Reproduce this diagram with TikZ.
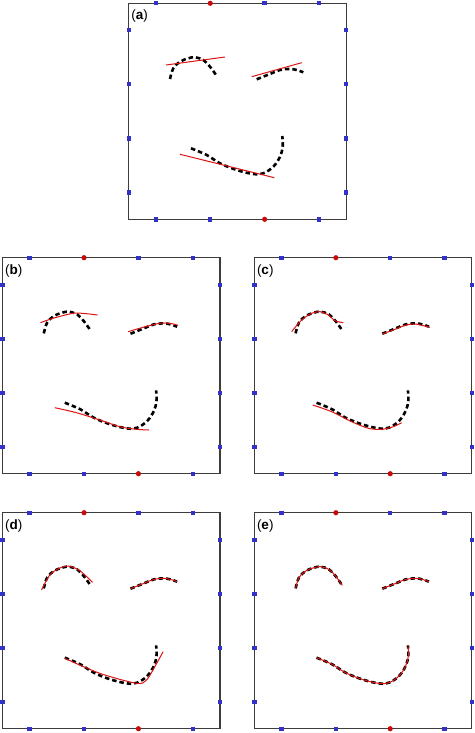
\documentclass[tikz,border=0pt]{standalone}
\usepackage{fontspec}
\setmainfont{Liberation Sans}
\usetikzlibrary{positioning}

\definecolor{markblue}{RGB}{50,50,200}
\definecolor{markred}{RGB}{200,10,10}
\definecolor{fitred}{RGB}{220,20,20}
\definecolor{framegray}{RGB}{60,60,60}

% panel size (px)
\newcommand{\pw}{217.5}
\newcommand{\ph}{216}

% frame, boundary markers, target strokes and label of one panel
\newcommand{\facepanel}[1]{%
  \draw[frame] (0,0) rectangle (\pw,\ph);
  \foreach \k in {1,3,5,7} {
    \fill[bmark] (0,\k*\ph/8) +(-2.2,-2.2) rectangle +(2.2,2.2);
    \fill[bmark] (\pw,\k*\ph/8) +(-2.2,-2.2) rectangle +(2.2,2.2);
  }
  \foreach \k in {1,5,7} \fill[bmark] (\k*\pw/8,0) +(-2.2,-2.2) rectangle +(2.2,2.2);
  \foreach \k in {1,3,7} \fill[bmark] (\k*\pw/8,\ph) +(-2.2,-2.2) rectangle +(2.2,2.2);
  \fill[rmark] (3*\pw/8,0) circle (2.6);
  \fill[rmark] (5*\pw/8,\ph) circle (2.6);
  % target strokes
  \draw[target] plot[smooth,tension=0.6] coordinates {(41.3,75.7) (44.6,65) (51.3,58.4) (59.6,55) (66.3,54) (74.6,56.7) (81.3,63.4) (88,72.7)};
  \draw[target] plot[smooth,tension=0.6] coordinates {(128,76) (141.3,70.7) (151.3,66.7) (161.3,65.7) (168,66.7) (174.6,69)};
  \draw[target] plot[smooth,tension=0.6] coordinates {(62.3,145) (78,151.7) (91.3,160) (108,166.7) (124.6,170.7) (134.6,170) (144.6,163.4) (151.3,153.4) (154,143.4) (153.6,132.7)};
  \node[lbl] (lbl#1) at (2.5,13) {(\textbf{#1})};
}

\begin{document}
\begin{tikzpicture}[x=1pt,y=-1pt,
  frame/.style={draw=framegray,line width=1.2pt},
  bmark/.style={fill=markblue},
  rmark/.style={fill=markred},
  target/.style={black,line width=2.6pt,dash pattern=on 4.5pt off 3pt},
  fit/.style={fitred,line width=1pt},
  lbl/.style={anchor=west,inner sep=0pt,font=\fontsize{13.5}{15}\selectfont}]
\useasboundingbox (0,0) rectangle (474,733);
% (a) straight strokes
\begin{scope}[shift={(128.7,3.3)}]
\facepanel{a}
\draw[fit] (37.3,61.7) -- (96.3,53.7);
\draw[fit] (123,73.4) -- (173,59.4);
\draw[fit] (51.3,151) -- (145.6,174.4);
\end{scope}
% (b)
\begin{scope}[shift={(2.5,257.7)}]
\facepanel{b}
\draw[fit] plot[smooth] coordinates {(38,65) (50.6,60.6) (70.6,55.6) (84,56) (95,57.3)};
\draw[fit] plot[smooth] coordinates {(125.6,74) (140.6,69.6) (157.3,65.6) (167.3,65.6) (175.6,67.6)};
\draw[fit] plot[smooth] coordinates {(52.3,150) (74,155) (97.3,162.3) (117.3,169) (134,171.6) (146.6,172.3)};
\end{scope}
% (c)
\begin{scope}[shift={(254.3,257.7)}]
\facepanel{c}
\draw[fit] plot[smooth] coordinates {(37.4,74) (45.7,64) (55.7,56.3) (65.7,54) (74,57.3) (80.7,63) (89,65)};
\draw[fit] plot[smooth] coordinates {(128,76.3) (140.7,71.6) (150.7,67.6) (160.7,66.3) (175.7,69.6)};
\draw[fit] plot[smooth] coordinates {(58.4,147.3) (77.4,154) (97.4,164) (114,170.6) (127.4,171.6) (139,169) (147.4,165)};
\end{scope}
% (d)
\begin{scope}[shift={(2.5,512.7)}]
\facepanel{d}
\draw[fit] plot[smooth] coordinates {(39,77.3) (47.3,62.3) (56,56) (65.6,53.3) (77.3,58) (90,69.6)};
\draw[fit] plot[smooth,tension=0.6] coordinates {(128,76) (141.3,70.7) (151.3,66.7) (161.3,65.7) (168,66.7) (174.6,69)};
\draw[fit] plot[smooth] coordinates {(62.3,145.6) (97.3,160.6) (134,170.6) (144,167.3) (152.3,154) (160.6,139)};
\end{scope}
% (e) fit on target
\begin{scope}[shift={(254.3,512.7)}]
\facepanel{e}
\draw[fit] plot[smooth,tension=0.6] coordinates {(41.3,75.7) (44.6,65) (51.3,58.4) (59.6,55) (66.3,54) (74.6,56.7) (81.3,63.4) (88,72.7)};
\draw[fit] plot[smooth,tension=0.6] coordinates {(128,76) (141.3,70.7) (151.3,66.7) (161.3,65.7) (168,66.7) (174.6,69)};
\draw[fit] plot[smooth,tension=0.6] coordinates {(62.3,145) (78,151.7) (91.3,160) (108,166.7) (124.6,170.7) (134.6,170) (144.6,163.4) (151.3,153.4) (154,143.4) (153.6,132.7)};
\end{scope}
\end{tikzpicture}
\end{document}
